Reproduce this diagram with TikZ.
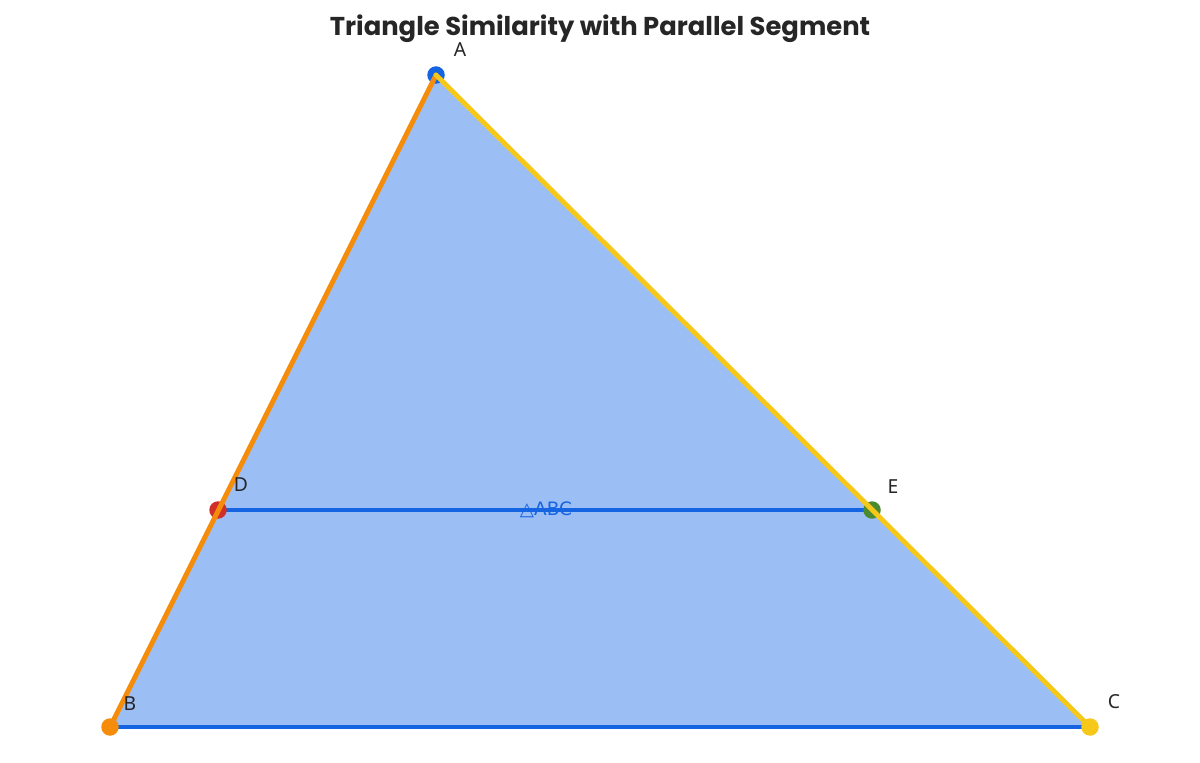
\documentclass[tikz,border=0pt]{standalone}
\usepackage{fontspec}
\setmainfont{Noto Sans}
\newfontfamily\titlefont{Poppins}
\newfontfamily\symfont{DejaVu Sans}
\usepackage{tikz}
\usetikzlibrary{calc}

\definecolor{fillblue}{HTML}{9BBEF5}
\definecolor{lineblue}{HTML}{1565E3}
\definecolor{edgeorange}{HTML}{F58C0A}
\definecolor{edgeyellow}{HTML}{F5C81A}
\definecolor{dotred}{HTML}{D0302A}
\definecolor{dotgreen}{HTML}{4A8A30}

\begin{document}
\begin{tikzpicture}[x=0.02cm,y=-0.02cm,
    edge/.style={line width=2.8pt,line cap=round},
    pt/.style={circle,inner sep=0pt,minimum size=0.35cm},
    lbl/.style={font=\fontsize{11}{13}\selectfont,text=black!85}]
            \useasboundingbox(0,0)rectangle(1200,763);

            \coordinate(A)at(436,75);
            \coordinate(B)at(110,727);
            \coordinate(C)at(1090,727);
            \coordinate(D)at(218,510);
            \coordinate(E)at(872,510);

            \node[font=\titlefont\fontsize{14.7}{18}\selectfont\bfseries,text=black!85](title)at(600,29){Triangle Similarity with Parallel Segment};

            \fill[fillblue](A)--(B)--(C)--cycle;
            \draw[edge,lineblue,line cap=butt](D)--(E);
            \node[font=\symfont\fontsize{10.5}{12}\selectfont,text=lineblue](tri)at(546,510){△ABC};

            \foreach \p/\c in{A/lineblue,D/dotred,E/dotgreen}{
            \node[pt,fill=\c](dot\p)at(\p){};
            }

            \draw[edge,lineblue](B)--(C);
            \draw[edge,edgeorange](B)--(A);
            \draw[edge,edgeyellow](A)--(C);

            \node[pt,fill=edgeorange](dotB)at(B){};
            \node[pt,fill=edgeyellow](dotC)at(C){};

            \foreach \p/\x/\y in{A/460/50,B/130/704,C/1114/702,D/241/485,E/893/487}{
            \node[lbl](lbl\p)at(\x,\y){\p};
            }

        \end{tikzpicture}
\end{document}
